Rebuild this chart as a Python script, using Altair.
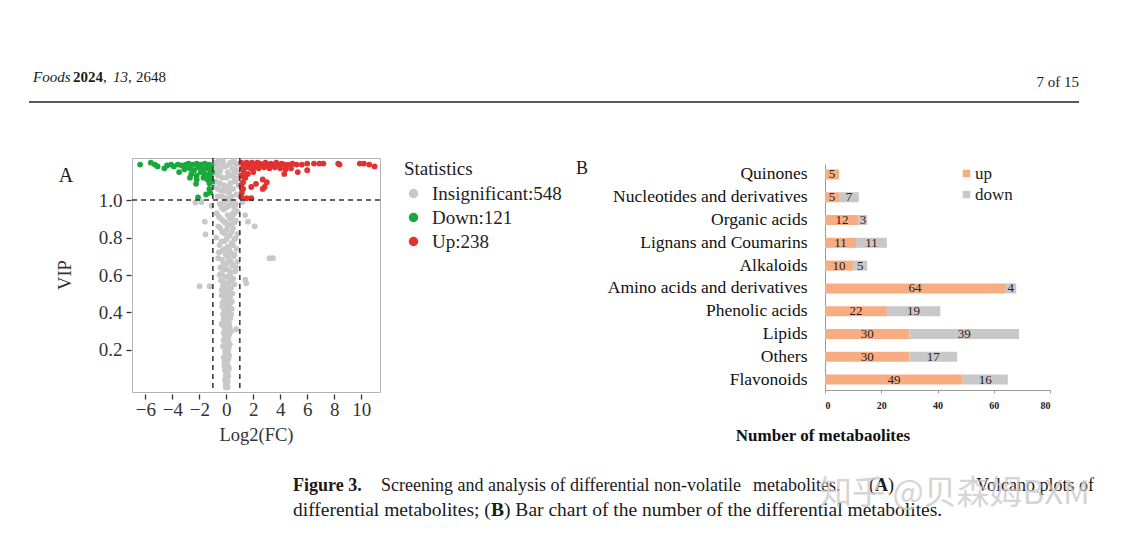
import altair as alt
import pandas as pd

SERIF = "Liberation Serif"

# ---------------- Panel A: volcano plot ----------------
insig_points = [
    (-0.8, 1.2), (-0.55, 1.21), (-0.3, 1.19), (0.3, 1.2), (0.55, 1.21), (0.8, 1.19), (-0.7, 1.17), (-0.45, 1.16),
    (0.45, 1.17), (0.7, 1.16), (-0.6, 1.13), (-0.3, 1.12), (0.35, 1.13), (0.65, 1.12), (-0.5, 1.09), (-0.2, 1.08),
    (0.3, 1.09), (0.6, 1.1), (-0.4, 1.05), (-0.1, 1.05), (0.2, 1.04), (0.5, 1.06), (-0.3, 1.02), (0.0, 1.01),
    (0.25, 1.0), (0.85, 1.15), (-0.85, 1.14), (0.1, 1.15), (-0.1, 1.18), (0.9, 1.08), (-0.9, 1.07), (0.75, 1.03),
    (-0.65, 1.02),
    (-0.5, 0.98), (0.2, 0.97), (0.6, 0.96), (-0.2, 0.95), (0.8, 0.94), (-0.7, 0.93), (0.1, 0.92), (0.45, 0.91),
    (-0.4, 0.9), (0.7, 0.89), (-0.1, 0.88), (0.3, 0.87), (-0.6, 0.86), (0.5, 0.85), (0.0, 0.84), (-0.3, 0.83),
    (0.85, 0.82), (0.25, 0.81), (-0.75, 0.8), (0.6, 0.79), (-0.15, 0.78), (0.4, 0.77), (-0.5, 0.76), (0.1, 0.75),
    (0.75, 0.74), (-0.3, 0.73), (0.3, 0.72), (-0.05, 0.71), (0.55, 0.7), (-0.6, 0.69), (0.2, 0.68), (0.8, 0.67),
    (-0.2, 0.66), (0.45, 0.65), (-0.45, 0.64), (0.05, 0.63), (0.65, 0.62), (-0.35, 0.61), (0.3, 0.6),
    (-0.1, 0.59), (0.5, 0.58), (-0.4, 0.57), (0.2, 0.56), (0.0, 0.55), (-0.25, 0.54), (0.35, 0.53), (0.1, 0.52),
    (-0.15, 0.51), (0.45, 0.5), (-0.35, 0.49), (0.25, 0.48), (0.0, 0.47), (-0.2, 0.46), (0.3, 0.45), (0.1, 0.44),
    (-0.3, 0.43), (0.4, 0.42), (-0.05, 0.41), (0.2, 0.4), (-0.25, 0.39), (0.05, 0.38), (0.3, 0.37), (-0.15, 0.36),
    (0.15, 0.35), (-0.35, 0.34), (0.0, 0.33), (0.25, 0.32), (-0.1, 0.31),
    (0.1, 0.3), (-0.2, 0.29), (0.2, 0.28), (0.0, 0.27), (-0.15, 0.26), (0.15, 0.25), (-0.05, 0.24), (0.25, 0.23),
    (-0.25, 0.22), (0.05, 0.21), (0.15, 0.2), (-0.1, 0.19), (0.0, 0.18), (0.2, 0.17), (-0.2, 0.16), (0.1, 0.15),
    (-0.05, 0.14), (0.05, 0.13), (-0.15, 0.12), (0.15, 0.11), (0.0, 0.1), (-0.1, 0.09), (0.1, 0.08), (0.0, 0.07),
    (-0.05, 0.06), (0.05, 0.05), (0.0, 0.04), (0.1, 0.03), (-0.05, 0.02), (0.0, 0.01), (0.05, 0.0),
    (0.15, 1.19), (-0.25, 1.21), (0.65, 1.2), (-0.65, 1.19), (0.5, 1.14), (-0.5, 1.15), (0.0, 1.12), (0.8, 1.11),
    (-0.8, 1.1), (0.15, 1.07), (-0.6, 1.06), (0.4, 1.02), (-0.15, 0.99), (0.35, 0.99), (0.7, 0.98), (-0.35, 0.96),
    (0.0, 0.96), (0.5, 0.93), (-0.55, 0.91), (0.25, 0.9), (-0.25, 0.89), (0.6, 0.88), (0.1, 0.86), (-0.45, 0.85),
    (0.4, 0.83), (-0.1, 0.82), (0.7, 0.8), (0.0, 0.79), (-0.35, 0.78), (0.5, 0.76), (0.2, 0.74), (-0.1, 0.74),
    (-0.55, 0.72), (0.6, 0.71), (0.1, 0.7), (-0.3, 0.68), (0.35, 0.67), (0.0, 0.66), (0.7, 0.64), (-0.15, 0.63),
    (0.25, 0.62), (-0.5, 0.6), (0.1, 0.59), (0.35, 0.57), (-0.2, 0.56), (0.6, 0.55), (0.05, 0.54), (-0.35, 0.52),
    (0.25, 0.51), (0.0, 0.5), (-0.1, 0.48), (0.15, 0.47), (0.4, 0.46), (-0.3, 0.45), (0.05, 0.43), (0.25, 0.42),
    (-0.15, 0.41), (0.35, 0.39), (0.1, 0.38), (-0.2, 0.37), (0.0, 0.36), (0.2, 0.34), (-0.25, 0.33), (0.1, 0.32),
    (0.35, 0.3), (-0.05, 0.29), (0.1, 0.27), (-0.2, 0.25), (0.05, 0.24), (0.2, 0.22), (-0.1, 0.21), (0.1, 0.19),
    (-0.05, 0.17), (0.15, 0.15), (-0.15, 0.14), (0.05, 0.12), (0.2, 0.1), (-0.1, 0.11), (0.05, 0.09), (0.15, 0.06),
    (-0.1, 0.04), (0.05, 0.02), (0.1, 0.0), (-0.05, 0.0),
    (-2.3, 0.987), (-1.85, 0.99), (-1.6, 0.885), (-1.55, 0.817), (-1.98, 0.54), (-1.24, 0.54), (1.4, 0.92),
    (1.6, 0.885), (2.1, 0.86), (3.2, 0.69), (3.46, 0.69), (1.4, 0.575), (1.48, 0.556), (0.74, 0.31), (0.6, 0.97),
    (0.6, 0.93), (-1.1, 0.97), (1.2, 0.99),
]
down_points = [
    (-6.4, 1.19), (-5.6, 1.2), (-5.3, 1.19), (-5.1, 1.18), (-4.4, 1.185), (-4.1, 1.19), (-3.9, 1.18), (-3.6, 1.19),
    (-3.3, 1.185), (-3.0, 1.19), (-2.8, 1.195), (-2.5, 1.19), (-2.2, 1.195), (-1.9, 1.19), (-1.6, 1.195), (-1.3, 1.19),
    (-1.1, 1.185), (-3.5, 1.15), (-2.7, 1.17), (-2.4, 1.16), (-2.1, 1.175), (-1.8, 1.165), (-1.5, 1.17), (-1.2, 1.16),
    (-2.6, 1.14), (-2.2, 1.13), (-1.9, 1.15), (-1.6, 1.14), (-1.3, 1.135), (-2.7, 1.12), (-2.2, 1.11), (-1.7, 1.12),
    (-1.4, 1.11), (-1.15, 1.12), (-2.25, 1.087), (-1.26, 1.09), (-1.26, 1.06), (-1.2, 1.04), (-2.1, 1.015),
    (-1.5, 1.03), (-4.6, 1.17), (-3.1, 1.165), (-1.05, 1.15), (-1.05, 1.1),
]
up_points = [
    (1.1, 1.2), (1.3, 1.19), (1.5, 1.2), (1.7, 1.195), (1.9, 1.2), (2.1, 1.19), (2.3, 1.2), (2.5, 1.195),
    (2.7, 1.19), (2.9, 1.2), (3.1, 1.19), (3.3, 1.195), (3.5, 1.19), (3.7, 1.2), (3.9, 1.19), (4.1, 1.195),
    (4.3, 1.19), (4.6, 1.19), (4.9, 1.195), (5.2, 1.19), (5.6, 1.19), (6.0, 1.195), (6.5, 1.195), (6.9, 1.195),
    (7.2, 1.195), (8.3, 1.195), (8.4, 1.19), (9.9, 1.195), (10.2, 1.195), (10.6, 1.19), (11.0, 1.18),
    (1.2, 1.17), (1.5, 1.175), (1.8, 1.17), (2.1, 1.175), (2.4, 1.17), (2.8, 1.175), (3.2, 1.17), (3.6, 1.175),
    (4.0, 1.17), (4.4, 1.165), (4.8, 1.17), (5.3, 1.15), (6.0, 1.16), (4.3, 1.14), (1.3, 1.15), (1.6, 1.14),
    (2.0, 1.15), (1.1, 1.13), (1.4, 1.12),
    (1.36, 1.12), (1.24, 1.096), (1.24, 1.06), (2.7, 1.11), (3.0, 1.096), (2.2, 1.087), (1.85, 1.07), (2.84, 1.07),
    (2.7, 1.06), (1.1, 1.016), (1.5, 1.01), (1.85, 1.01), (1.1, 1.08), (1.15, 1.04),
]
group_labels = ["Insignificant:548", "Down:121", "Up:238"]
group_colors = ["#c8c8c8", "#1aa83c", "#e2312f"]
fc_cuts = [-1, 1]
vip_cut = [1.0]
fc_ticks = [-6, -4, -2, 0, 2, 4, 6, 8, 10]
vip_ticks = [0.2, 0.4, 0.6, 0.8, 1.0]

# ---------------- Panel B: bar chart ----------------
classes = ["Quinones", "Nucleotides and derivatives", "Organic acids", "Lignans and Coumarins", "Alkaloids",
           "Amino acids and derivatives", "Phenolic acids", "Lipids", "Others", "Flavonoids"]
up_counts = [5, 5, 12, 11, 10, 64, 22, 30, 30, 49]
down_counts = [0, 7, 3, 11, 5, 4, 19, 39, 17, 16]
status_labels = ["up", "down"]
status_colors = ["#f7ac82", "#c8c8c8"]
count_ticks = [0, 20, 40, 60, 80]

# ---------------- build tables ----------------
vrows = []
for (fx, vy) in insig_points:
    vrows.append({"fc": fx, "vip": vy, "group": group_labels[0]})
for (fx, vy) in down_points:
    vrows.append({"fc": fx, "vip": vy, "group": group_labels[1]})
for (fx, vy) in up_points:
    vrows.append({"fc": fx, "vip": vy, "group": group_labels[2]})
vdf = pd.DataFrame(vrows)

brows = []
for c, u, d in zip(classes, up_counts, down_counts):
    brows.append({"cls": c, "status": "up", "count": u, "ord": 0})
    brows.append({"cls": c, "status": "down", "count": d, "ord": 1})
bdf = pd.DataFrame(brows)


def note(txt, x, y, size, weight="normal", style="normal", align="left", baseline="alphabetic",
         font=SERIF, color="#1a1a1a", opacity=1.0):
    return alt.Chart(alt.Data(values=[{}])).mark_text(
        text=txt, align=align, baseline=baseline, font=font, fontSize=size,
        fontWeight=weight, fontStyle=style, color=color, opacity=opacity
    ).encode(x=alt.value(x), y=alt.value(y))


# ---- Panel A ----
xs = alt.Scale(domain=[-7, 11.4], nice=False, zero=False)
ys = alt.Scale(domain=[-0.025, 1.225], nice=False, zero=False)
x_axis = alt.Axis(
    values=fc_ticks, title="Log2(FC)", grid=False, domain=False, tickColor="#333", tickSize=5,
    tickWidth=1.3, offset=2, labelFont=SERIF, labelFontSize=19, labelColor="#333", labelPadding=1,
    labelOverlap=False, labelSeparation=0, titleFont=SERIF, titleFontSize=18.5, titleFontWeight="normal",
    titleColor="#333", titleY=40, titleBaseline="middle")
y_axis = alt.Axis(
    values=vip_ticks, format=".1f", title="VIP", grid=False, domain=False, tickColor="#333",
    tickSize=5, tickWidth=1.3, offset=1, labelFont=SERIF, labelFontSize=19, labelColor="#333",
    labelPadding=4, labelOverlap=False, titleFont=SERIF, titleFontSize=18.5, titleFontWeight="normal",
    titleColor="#333", titleX=-67, titleY=116.5, titleBaseline="middle")

pts = alt.Chart(vdf).mark_circle(size=34, opacity=1).encode(
    x=alt.X("fc:Q", scale=xs, axis=x_axis),
    y=alt.Y("vip:Q", scale=ys, axis=y_axis),
    color=alt.Color("group:N", scale=alt.Scale(domain=group_labels, range=group_colors),
                    legend=alt.Legend(orient="none", legendX=272, legendY=2, title="Statistics",
                                      titleFont=SERIF, titleFontSize=19, titleFontWeight="normal",
                                      titleColor="#222", labelFont=SERIF, labelFontSize=19,
                                      labelColor="#222", symbolType="circle", symbolSize=90,
                                      symbolStrokeWidth=0, symbolOpacity=1, labelOffset=9,
                                      titlePadding=5, rowPadding=4, padding=0)),
)

vlines = alt.Chart(pd.DataFrame({"fc": fc_cuts})).mark_rule(
    color="#333", strokeDash=[5, 4], strokeWidth=1.5).encode(x=alt.X("fc:Q", scale=xs, axis=x_axis))
hline = alt.Chart(pd.DataFrame({"vip": vip_cut})).mark_rule(
    color="#333", strokeDash=[5, 4], strokeWidth=1.5).encode(y=alt.Y("vip:Q", scale=ys, axis=y_axis))

anchor = alt.Chart(alt.Data(values=[{}])).mark_rule(color="white", strokeWidth=1).encode(
    x=alt.value(-123), x2=alt.value(-122), y=alt.value(-149))
header_rule = alt.Chart(alt.Data(values=[{}])).mark_rule(color="#222", strokeWidth=1.6).encode(
    x=alt.value(-103), x2=alt.value(947), y=alt.value(-56))

annotations = [
    anchor, header_rule,
    note("Foods", -99, -76, 15, style="italic"),
    note("2024", -59, -76, 15, weight="bold"),
    note(",", -29, -76, 15),
    note("13,", -19, -76, 15, style="italic"),
    note("2648", 4, -76, 15),
    note("7 of 15", 947, -71, 15, align="right"),
    note("A", -66, 18, 20, align="center", baseline="middle"),
    note("Figure 3.", 161, 333, 18, weight="bold"),
    note("Screening and analysis of differential non-volatile", 249, 333, 18),
    note("metabolites.", 621, 333, 18),
    note("(", 737, 333, 18),
    note("A", 743, 333, 18, weight="bold"),
    note(")", 756, 333, 18),
    note("Volcano plots of", 962, 333, 18, align="right"),
    note("differential metabolites; (", 161, 358, 19.5),
    note("B", 359, 358, 19.5, weight="bold"),
    note(") Bar chart of the number of the differential metabolites.", 372, 358, 19.5),
    note("知乎 @贝森姆BXM", 687, 336, 33, font="Noto Sans CJK SC", color="#c8c8c8", opacity=0.75,
         baseline="middle"),
]

panel_a = alt.layer(pts, vlines, hline, *annotations).properties(
    width=248, height=234, view=alt.ViewBackground(stroke="#b4b4b4", strokeWidth=1))

# ---- Panel B ----
bx = alt.Scale(domain=[0, 80], nice=False, zero=True)
by = alt.Scale(range=[6, 232], paddingInner=0.56, paddingOuter=0.24)
y_enc = alt.Y("cls:N", sort=classes, scale=by, axis=alt.Axis(
    title=None, ticks=False, labelPadding=18, labelFont=SERIF, labelFontSize=17.5, labelColor="#111",
    domainColor="#9a9a9a", labelLimit=400))
bx_axis = alt.Axis(
    values=count_ticks, title="Number of metabaolites", grid=False, domainColor="#9a9a9a",
    tickColor="#9a9a9a", tickSize=3, labelFont=SERIF, labelFontSize=10, labelFontWeight="bold",
    labelColor="#222", labelPadding=7, titleFont=SERIF, titleFontSize=17, titleFontWeight="bold",
    titleColor="#111", titleX=-2.5, titleY=45, titleBaseline="middle", titleAlign="center")

bars = alt.Chart(bdf).mark_bar().encode(
    x=alt.X("count:Q", stack="zero", scale=bx, axis=bx_axis),
    y=y_enc,
    color=alt.Color("status:N", scale=alt.Scale(domain=status_labels, range=status_colors),
                    legend=alt.Legend(orient="none", legendX=133, legendY=7, title=None,
                                      symbolType="square", symbolSize=56, symbolStrokeWidth=0,
                                      labelFont=SERIF, labelFontSize=17, labelColor="#222",
                                      labelOffset=0, rowPadding=3, padding=0)),
    order=alt.Order("ord:Q"),
)

bar_text = alt.Chart(bdf).transform_stack(
    stack="count", groupby=["cls"], as_=["x0", "x1"], sort=[alt.SortField("ord")]
).transform_filter("datum.count > 0").transform_calculate(
    mid="(datum.x0 + datum.x1) / 2"
).mark_text(font=SERIF, fontSize=13, color="#2a2118", baseline="middle").encode(
    x=alt.X("mid:Q", scale=bx, axis=bx_axis), y=y_enc, text="count:Q")

b_label = note("B", -243, 10.5, 18, align="center", baseline="middle")

panel_b = alt.layer(bars, bar_text, b_label).properties(width=225, height=232)

chart = alt.hconcat(panel_a, panel_b, spacing=445, bounds="flush").resolve_scale(
    color="independent").resolve_legend(color="independent").properties(
    padding=0, background="white").configure_view(stroke=None)

chart.save("out.html", embed_options={"renderer": "svg", "actions": False})
